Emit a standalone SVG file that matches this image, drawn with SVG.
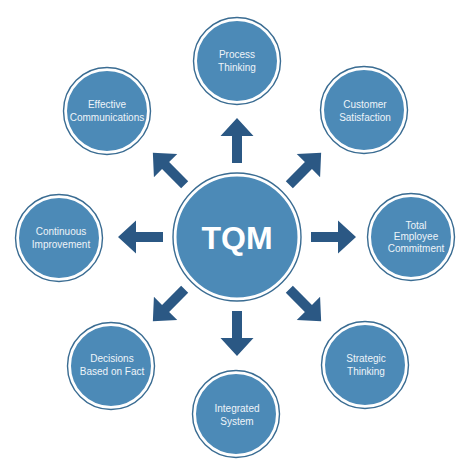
<svg xmlns="http://www.w3.org/2000/svg" width="474" height="476" viewBox="0 0 474 476">
<style>
.edge{fill:none;stroke:#3a6c92;stroke-width:1.4}
.fill{fill:#4c8ab7;stroke:#ffffff;stroke-width:3}
.lbl{font-family:"Liberation Sans",Arial,sans-serif;font-size:10px;fill:#eef4f9;text-anchor:middle}
.big{font-family:"Liberation Sans",Arial,sans-serif;font-size:32px;font-weight:bold;fill:#ffffff;text-anchor:middle}
.arr{fill:#2b5884}
</style>
<defs>
<polygon id="arrow" points="74,-5 101,-5 101,-16.5 119,0 101,16.5 101,5 74,5"/>
</defs>
<rect width="474" height="476" fill="#ffffff"/>
<g id="connectors" class="arr" transform="translate(237,237)">
<use href="#arrow" transform="rotate(-90)"/>
<use href="#arrow" transform="rotate(-45)"/>
<use href="#arrow" transform="rotate(0)"/>
<use href="#arrow" transform="rotate(45)"/>
<use href="#arrow" transform="rotate(90)"/>
<use href="#arrow" transform="rotate(135)"/>
<use href="#arrow" transform="rotate(180)"/>
<use href="#arrow" transform="rotate(-135)"/>
</g>
<g id="tqm">
<circle class="fill" cx="237" cy="237" r="62"/>
<circle class="edge" cx="237" cy="237" r="64"/>
<text class="big" x="237" y="249">TQM</text>
</g>
<g id="process-thinking">
<circle class="fill" cx="237" cy="61" r="41.5"/>
<circle class="edge" cx="237" cy="61" r="43.5"/>
<text class="lbl" x="237" y="58">Process</text>
<text class="lbl" x="237" y="70.5">Thinking</text>
</g>
<g id="customer-satisfaction">
<circle class="fill" cx="364" cy="110" r="41.5"/>
<circle class="edge" cx="364" cy="110" r="43.5"/>
<text class="lbl" x="365" y="108">Customer</text>
<text class="lbl" x="365" y="120.5">Satisfaction</text>
</g>
<g id="total-employee-commitment">
<circle class="fill" cx="411" cy="237" r="41.5"/>
<circle class="edge" cx="411" cy="237" r="43.5"/>
<text class="lbl" x="416" y="228.5">Total</text>
<text class="lbl" x="416" y="240">Employee</text>
<text class="lbl" x="416" y="251.5">Commitment</text>
</g>
<g id="strategic-thinking">
<circle class="fill" cx="365" cy="365" r="41.5"/>
<circle class="edge" cx="365" cy="365" r="43.5"/>
<text class="lbl" x="366" y="362">Strategic</text>
<text class="lbl" x="366" y="374.5">Thinking</text>
</g>
<g id="integrated-system">
<circle class="fill" cx="236" cy="414" r="41.5"/>
<circle class="edge" cx="236" cy="414" r="43.5"/>
<text class="lbl" x="237" y="412">Integrated</text>
<text class="lbl" x="237" y="424.5">System</text>
</g>
<g id="decisions-based-on-fact">
<circle class="fill" cx="111" cy="366" r="41.5"/>
<circle class="edge" cx="111" cy="366" r="43.5"/>
<text class="lbl" x="112" y="362">Decisions</text>
<text class="lbl" x="112" y="374.5">Based on Fact</text>
</g>
<g id="continuous-improvement">
<circle class="fill" cx="59" cy="238" r="41.5"/>
<circle class="edge" cx="59" cy="238" r="43.5"/>
<text class="lbl" x="61" y="235">Continuous</text>
<text class="lbl" x="61" y="247.5">Improvement</text>
</g>
<g id="effective-communications">
<circle class="fill" cx="107" cy="111" r="41.5"/>
<circle class="edge" cx="107" cy="111" r="43.5"/>
<text class="lbl" x="107" y="108">Effective</text>
<text class="lbl" x="107" y="120.5">Communications</text>
</g>
</svg>
